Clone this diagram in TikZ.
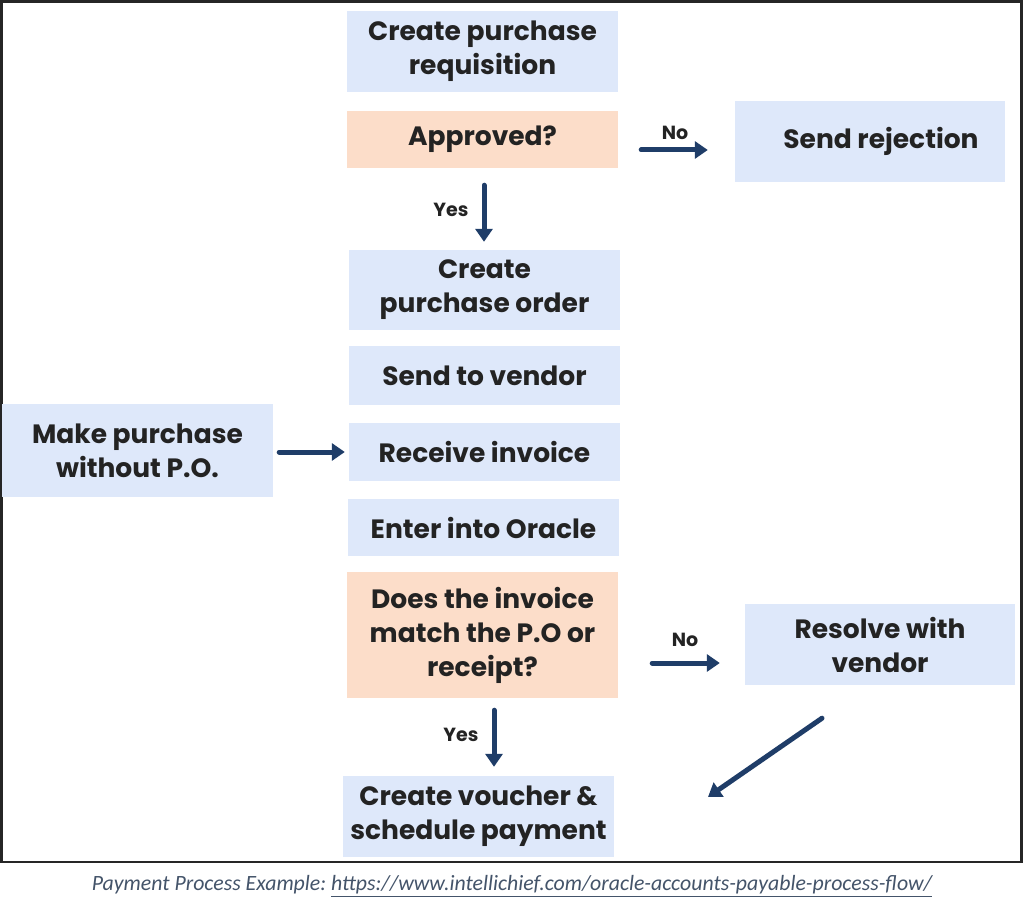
\documentclass[tikz,border=0pt]{standalone}
\usepackage{fontspec}
\setmainfont{Poppins}
\newfontfamily\capfont{Carlito}
\usetikzlibrary{arrows.meta,calc}
\definecolor{boxblue}{HTML}{DEE8FA}
\definecolor{boxorange}{HTML}{FCDDC9}
\definecolor{arrowblue}{HTML}{1F3D68}
\definecolor{txt}{HTML}{232323}
\definecolor{capcol}{HTML}{44546A}
\tikzset{
  stepbox/.style={fill=boxblue, draw=none, minimum width=271pt, align=center, text=txt, font=\bfseries\fontsize{26.5}{34}\selectfont, inner sep=0pt},
  decbox/.style={stepbox, fill=boxorange},
  flow/.style={draw=arrowblue, line width=5pt, line cap=round, -{Triangle[width=17pt,length=13pt]}},
  lbl/.style={text=txt, font=\bfseries\fontsize{19}{21}\selectfont}
}
\begin{document}
\begin{tikzpicture}[x=1pt,y=-1pt]
\useasboundingbox (0,0) rectangle (1024,912);
\fill[white] (0,0) rectangle (1024,912);
\draw[line width=2.5pt, draw=black!85] (1.5,1.5) rectangle (1021.5,862);

\node[stepbox, minimum height=81pt] (req) at (482.5,51.5) {Create purchase\\requisition};
\node[decbox, minimum height=57pt] (appr) at (482.5,139.5) {Approved?};
\node[stepbox, minimum width=270pt, minimum height=81pt] (rej) at (870,141.5) {\hspace*{22pt}Send rejection};
\node[stepbox, minimum height=80pt] (po) at (484.5,290) {Create\\purchase order};
\node[stepbox, minimum height=59pt] (vend) at (484.5,375.5) {Send to vendor};
\node[stepbox, minimum height=58pt] (inv) at (484.5,452) {Receive invoice};
\node[stepbox, minimum height=93pt] (make) at (137.5,450.5) {Make purchase\\without P.O.};
\node[stepbox, minimum height=57pt] (orac) at (483.5,527.5) {Enter into Oracle};
\node[decbox, minimum height=126pt] (match) at (482.5,635) {Does the invoice\\match the P.O or\\receipt?};
\node[stepbox, minimum width=270pt, minimum height=81pt] (res) at (880,644.5) {Resolve with\\vendor};
\node[stepbox, minimum height=81pt] (vou) at (478.5,816.5) {Create voucher \&\\schedule payment};

\draw[flow] ($(appr.east)+(23,10.5)$) -- ($(rej.west)+(-27,8.5)$);
\node[lbl] (no1) at (675,133) {No};
\draw[flow] ($(appr.south)+(1.5,17)$) -- ($(po.north)+(-0.5,-8)$);
\node[lbl] (yes1) at (451,210) {Yes};
\draw[flow] ($(make.east)+(6,1.5)$) -- ($(inv.west)+(-4,0)$);
\draw[flow] ($(match.east)+(34,28)$) -- ($(res.west)+(-25,18.5)$);
\node[lbl] (no2) at (685,640) {No};
\draw[flow] ($(match.south)+(11.5,12)$) -- ($(vou.north)+(15.5,-9)$);
\node[lbl] (yes2) at (461,735) {Yes};
\draw[flow] ($(res.south)+(-58,33)$) -- (708,797);

\node[text=capcol, font=\capfont\itshape\fontsize{21.8}{24}\selectfont, inner sep=0pt] (cap) at (512,886)
  {Payment Process Example:~\underline{https://www.intellichief.com/oracle-accounts-payable-process-flow/}};
\end{tikzpicture}
\end{document}
